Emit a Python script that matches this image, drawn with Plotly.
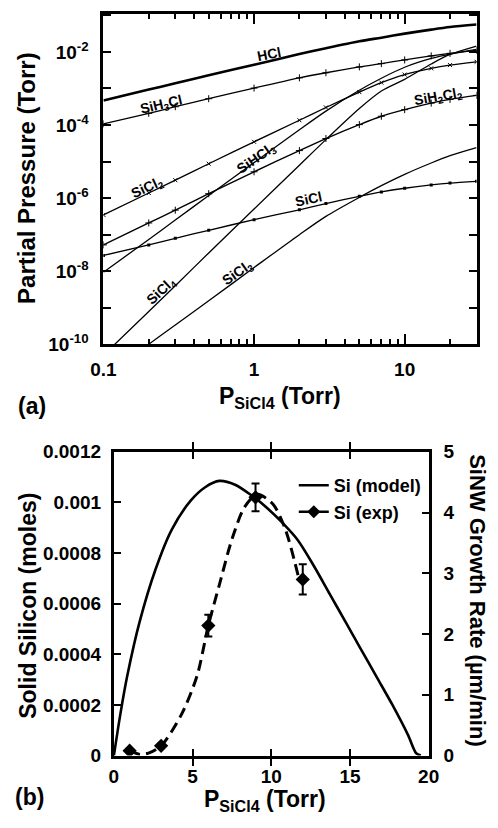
import plotly.graph_objects as go

# ---------------- (a) equilibrium partial pressures ----------------
P_SiCl4 = [0.1, 0.2, 0.3, 0.5, 1, 2, 3, 5, 7, 10, 15, 20, 30]   # Torr
# log10 of partial pressure (Torr)
log_HCl     = [-3.33, -3.03, -2.86, -2.64, -2.35, -2.06, -1.90, -1.71, -1.61, -1.50, -1.39, -1.32, -1.25]
log_SiH3Cl  = [-3.97, -3.68, -3.50, -3.28, -2.99, -2.71, -2.57, -2.41, -2.32, -2.22, -2.11, -2.04, -1.96]
log_SiCl2   = [-6.46, -5.86, -5.51, -5.06, -4.46, -3.87, -3.52, -3.10, -2.84, -2.62, -2.45, -2.36, -2.27]
log_SiHCl3  = [-8.03, -7.13, -6.60, -5.93, -5.03, -4.13, -3.62, -3.05, -2.72, -2.42, -2.18, -2.06, -1.93]
log_SiH2Cl2 = [-7.28, -6.68, -6.33, -5.88, -5.28, -4.70, -4.37, -3.99, -3.76, -3.58, -3.40, -3.30, -3.19]
log_SiCl4   = [-10.30, -9.10, -8.40, -7.50, -6.30, -5.10, -4.40, -3.55, -3.07, -2.75, -2.33, -2.07, -1.84]
log_SiCl3   = [-10.90, -10.00, -9.47, -8.81, -7.90, -7.00, -6.50, -5.98, -5.66, -5.35, -5.04, -4.84, -4.62]
log_SiCl    = [-7.57, -7.28, -7.10, -6.88, -6.59, -6.32, -6.15, -5.95, -5.83, -5.73, -5.64, -5.59, -5.54]

y_label_exponents = [-10, -8, -6, -4, -2]
y_minor_exponents = [-9, -7, -5, -3, -1]
x_tick_labels_a = ["0.1", "1", "10"]

# ---------------- (b) solid silicon vs growth rate ----------------
x_model = [0, 0.4, 0.85, 1.65, 2.66, 3.67, 4.88, 5.8, 6.7, 7.7, 8.7, 9.7, 10.7, 11.7, 12.7,
           13.7, 14.7, 15.7, 16.7, 17.7, 18.7, 19.2, 19.5]
si_model = [0, 0.00016, 0.000315, 0.000532, 0.000738, 0.000892, 0.001007, 0.00106, 0.001085,
            0.00107, 0.00103, 0.00098, 0.00092, 0.00085, 0.00075, 0.00064, 0.00053, 0.00042,
            0.00031, 0.00020, 0.00008, 0.00001, 0]
x_exp = [1, 3, 6, 9, 12]
rate_exp = [0.08, 0.16, 2.14, 4.25, 2.90]
rate_err = [0.0, 0.0, 0.18, 0.23, 0.25]
x_fit = [1, 1.65, 2.2, 3, 4.28, 5.28, 6, 6.7, 7.5, 8.3, 9.1, 10.1, 10.9, 11.7]
rate_fit = [0.08, 0.02, 0.04, 0.16, 0.67, 1.31, 2.14, 2.81, 3.56, 4.09, 4.30, 4.14, 3.72, 2.97]

FONT = "Liberation Sans, Arial, sans-serif"
W, H = 498, 828


def f(size):
    return dict(family=FONT, size=size, color="black", weight="bold")


def px_x(p):
    return p / W


def px_y(p):
    return 1 - p / H


fig = go.Figure()

series = [
    ("HCl", log_HCl, 2.6, None),
    ("SiH3Cl", log_SiH3Cl, 1.3, dict(symbol="cross-thin-open", size=5, line=dict(width=1, color="black"))),
    ("SiCl2", log_SiCl2, 1.3, dict(symbol="x-thin-open", size=4, line=dict(width=1, color="black"))),
    ("SiHCl3", log_SiHCl3, 1.3, None),
    ("SiH2Cl2", log_SiH2Cl2, 1.4, dict(symbol="cross-thin-open", size=5, line=dict(width=1, color="black"))),
    ("SiCl4", log_SiCl4, 1.3, None),
    ("SiCl3", log_SiCl3, 1.3, None),
    ("SiCl", log_SiCl, 1.3, dict(symbol="square", size=3, color="black")),
]
for name, logs, lw, mk in series:
    fig.add_trace(go.Scatter(
        x=P_SiCl4, y=[10 ** v for v in logs], name=name,
        mode="lines+markers" if mk else "lines",
        line=dict(color="black", width=lw, shape="spline", smoothing=0.8),
        marker=mk, showlegend=False, xaxis="x", yaxis="y", cliponaxis=True))

# (b)
fig.add_trace(go.Scatter(
    x=x_model, y=si_model, name="Si (model)", mode="lines",
    line=dict(color="black", width=2.6, shape="spline", smoothing=0.8),
    xaxis="x2", yaxis="y2", showlegend=True))
fig.add_trace(go.Scatter(
    x=x_fit, y=rate_fit, mode="lines", showlegend=False,
    line=dict(color="black", width=3, dash="11px,6px", shape="spline", smoothing=0.8),
    xaxis="x2", yaxis="y3"))
fig.add_trace(go.Scatter(
    x=x_exp, y=rate_exp, mode="markers", showlegend=False,
    marker=dict(symbol="diamond", size=11, color="black"),
    error_y=dict(type="data", array=rate_err, visible=True, color="black", thickness=2, width=4),
    xaxis="x2", yaxis="y3"))
fig.add_trace(go.Scatter(
    x=[None], y=[None], name="Si (exp)", mode="lines+markers",
    line=dict(color="black", width=2.6),
    marker=dict(symbol="diamond", size=10, color="black"),
    xaxis="x2", yaxis="y3", showlegend=True))

axis_common = dict(showline=True, linecolor="black", linewidth=3, showgrid=False, zeroline=False,
                   ticks="inside", tickcolor="black", tickwidth=2)

# species labels on curves (positions in log units)
label_text = ["HCl", "SiH<sub>3</sub>Cl", "SiCl<sub>2</sub>", "SiHCl<sub>3</sub>", "SiH<sub>2</sub>Cl<sub>2</sub>",
              "SiCl", "SiCl<sub>4</sub>", "SiCl<sub>3</sub>"]
label_lx = [0.101, -0.614, -0.709, 0.013, 1.222, 0.361, -0.614, -0.108]
label_ly = [-2.05, -3.46, -5.73, -4.93, -3.24, -6.03, -8.55, -8.04]
label_ang = [-11, -13, -25, -35, -10, -12, -43, -35]

annotations = []
for t, lx, ly, a in zip(label_text, label_lx, label_ly, label_ang):
    annotations.append(dict(text=t, x=lx, y=ly, xref="x", yref="y", showarrow=False,
                            textangle=a, font=f(14), xanchor="center", yanchor="middle"))

# titles
annotations += [
    dict(text="Partial Pressure (Torr)", x=px_x(14), y=px_y(172), xref="paper", yref="paper",
         textangle=-90, showarrow=False, font=f(24), xanchor="center", yanchor="middle"),
    dict(text="P<sub>SiCl4</sub> (Torr)", x=px_x(280), y=px_y(398), xref="paper", yref="paper",
         showarrow=False, font=f(23), xanchor="center", yanchor="middle"),
    dict(text="(a)", x=px_x(20), y=px_y(406), xref="paper", yref="paper",
         showarrow=False, font=f(23), xanchor="center", yanchor="middle"),
    dict(text="Solid Silicon (moles)", x=px_x(15), y=px_y(611), xref="paper", yref="paper",
         textangle=-90, showarrow=False, font=f(23), xanchor="center", yanchor="middle"),
    dict(text="SiNW Growth Rate (\u00b5m/min)", x=px_x(488), y=px_y(606), xref="paper", yref="paper",
         textangle=90, showarrow=False, font=f(22), xanchor="center", yanchor="middle"),
    dict(text="P<sub>SiCl4</sub> (Torr)", x=px_x(265), y=px_y(811), xref="paper", yref="paper",
         showarrow=False, font=f(23), xanchor="center", yanchor="middle"),
    dict(text="(b)", x=px_x(17), y=px_y(807), xref="paper", yref="paper",
         showarrow=False, font=f(23), xanchor="center", yanchor="middle"),
]

fig.update_layout(
    width=W, height=H, margin=dict(l=0, r=0, t=0, b=0),
    paper_bgcolor="white", plot_bgcolor="white",
    font=f(17),
    xaxis=dict(**axis_common, type="log", range=[-1, 1.477],
               domain=[px_x(95), px_x(487)], anchor="y", mirror="allticks", ticklen=10,
               tickvals=[0.1, 1, 10], ticktext=x_tick_labels_a, tickfont=f(19), ticklabelstandoff=6,
               minor=dict(ticks="inside", ticklen=5, tickwidth=2, tickcolor="black",
                          tickvals=[0.2, 0.3, 0.4, 0.5, 0.6, 0.7, 0.8, 0.9, 2, 3, 4, 5, 6, 7, 8, 9, 20, 30])),
    yaxis=dict(**axis_common, type="log", range=[-10, -0.96],
               domain=[px_y(343), px_y(4)], anchor="x", mirror="allticks", ticklen=8,
               tickvals=[10 ** e for e in y_label_exponents],
               ticktext=["10<sup>%d</sup>" % e for e in y_label_exponents],
               tickfont=f(19), ticklabelstandoff=8,
               minor=dict(ticks="inside", ticklen=8, tickwidth=2, tickcolor="black",
                          tickvals=[10 ** e for e in y_minor_exponents])),
    xaxis2=dict(**axis_common, range=[0, 20], domain=[px_x(106), px_x(436.7)], anchor="y2",
                mirror="allticks", ticklen=7, tickvals=[0, 5, 10, 15, 20], tickfont=f(19),
                ticklabelstandoff=2),
    yaxis2=dict(**axis_common, range=[0, 0.0012], domain=[px_y(765), px_y(453.3)], anchor="x2",
                ticklen=7, tickvals=[0, 0.0002, 0.0004, 0.0006, 0.0008, 0.001, 0.0012],
                ticktext=["0", "0.0002", "0.0004", "0.0006", "0.0008", "0.001", "0.0012"],
                tickfont=f(19), ticklabelstandoff=6),
    yaxis3=dict(**axis_common, range=[0, 5], overlaying="y2", side="right", anchor="x2",
                ticklen=7, tickvals=[0, 1, 2, 3, 4, 5], tickfont=f(19), ticklabelstandoff=8),
    legend=dict(x=px_x(295), y=px_y(469), xanchor="left", yanchor="top", bgcolor="rgba(0,0,0,0)",
                font=f(18), itemwidth=30, tracegroupgap=0),
    annotations=annotations,
)

fig.write_html("out.html")
